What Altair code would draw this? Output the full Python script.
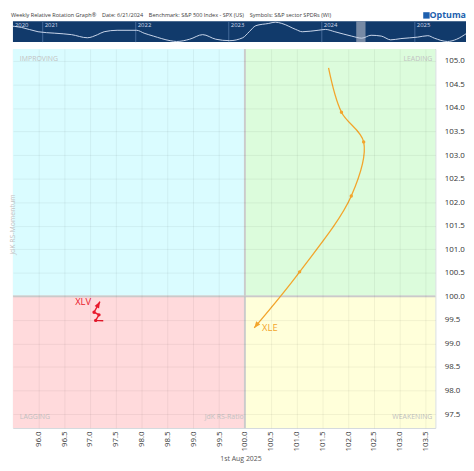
import math
import altair as alt
import pandas as pd

FONT = "Open Sans"
NB = "\u00a0"

# ---------------- header ----------------
header_parts = ["Weekly Relative Rotation Graph\u00ae", "Date: 6/21/2024",
                "Benchmark: S&P 500 Index - SPX (US)", "Symbols: S&P sector SPDRs (WI)"]
header_text = (NB * 4).join(header_parts)
brand_text = "Optuma"

# ---------------- timeline strip ----------------
strip_t = [2020.63, 2020.77, 2020.95, 2021.13, 2021.31, 2021.48, 2021.59, 2021.66,
           2021.80, 2022.01, 2022.09, 2022.19, 2022.37, 2022.44, 2022.58, 2022.72,
           2022.86, 2023.01, 2023.15, 2023.22, 2023.29, 2023.43, 2023.50, 2023.57,
           2023.72, 2023.79, 2023.96, 2024.04, 2024.14, 2024.32, 2024.43, 2024.53,
           2024.64, 2024.74, 2024.85, 2025.03, 2025.14, 2025.21, 2025.35, 2025.45,
           2025.56, 2025.63]
strip_v = [0.79, 0.71, 0.50, 0.43, 0.36, 0.21, 0.36, 0.50,
           0.57, 0.57, 0.43, 0.29, 0.07, 0.03, 0.14, 0.36,
           0.14, 0.07, 0.21, 0.50, 0.79, 0.90, 0.96, 0.90,
           0.61, 0.50, 0.57, 0.61, 0.50, 0.29, 0.19, 0.33,
           0.29, 0.11, 0.17, 0.24, 0.31, 0.19, 0.03, 0.14,
           0.43, 0.64]
year_lines = [2021, 2022, 2023, 2024, 2025]
year_labels = ["2020", "2021", "2022", "2023", "2024", "2025"]
year_label_at = [2020, 2021, 2022, 2023, 2024, 2025]
highlight_from = [2024.37]
highlight_to = [2024.47]
T_MIN, T_MAX = 2020.68, 2025.55

# ---------------- RRG ----------------
XMIN, XMAX = 95.508, 103.688
YMIN, YMAX = 97.206, 105.252
x_ticks = [96.0, 96.5, 97.0, 97.5, 98.0, 98.5, 99.0, 99.5, 100.0, 100.5,
           101.0, 101.5, 102.0, 102.5, 103.0, 103.5]
y_ticks = [97.5, 98.0, 98.5, 99.0, 99.5, 100.0, 100.5, 101.0, 101.5, 102.0,
           102.5, 103.0, 103.5, 104.0, 104.5, 105.0]

quad_names = ["IMPROVING", "LEADING", "LAGGING", "WEAKENING"]
quad_colors = ["#dafcff", "#dcfcdc", "#ffdadc", "#ffffda"]

xle_ratio = [101.62, 101.87, 102.30, 102.06, 101.06, 100.18]
xle_mom = [104.85, 103.91, 103.28, 102.13, 100.52, 99.33]
xlv_ratio = [97.257, 97.111, 97.174, 97.079, 97.193]
xlv_mom = [99.481, 99.489, 99.607, 99.664, 99.889]

XLE_COLOR = "#f3a52c"
XLV_COLOR = "#e8192c"

W_MAIN, H_MAIN = 427, 383
W_STRIP, H_STRIP = 458, 21

# ======== strip chart ========
sx = alt.Scale(domain=[T_MIN, T_MAX], nice=False, zero=False)
sy = alt.Scale(domain=[0, 1], nice=False, zero=False)

strip_df = pd.DataFrame({"t": strip_t, "v": strip_v, "i": range(len(strip_t))})
yl_df = pd.DataFrame({"t": year_lines})
ylab_df = pd.DataFrame({"t": [max(a, T_MIN) for a in year_label_at], "lab": year_labels,
                        "v": [1] * len(year_labels)})
hl_df = pd.DataFrame({"t": highlight_from, "t2": highlight_to, "v": [0], "v2": [1]})

s_rules = alt.Chart(yl_df).mark_rule(color="#44699a", strokeWidth=1).encode(
    x=alt.X("t:Q", scale=sx, axis=None))
s_hl = alt.Chart(hl_df).mark_rect(color="#9aa6b8", opacity=0.75).encode(
    x=alt.X("t:Q", scale=sx, axis=None), x2="t2:Q",
    y=alt.Y("v:Q", scale=sy, axis=None), y2="v2:Q")
s_line = alt.Chart(strip_df).mark_line(color="#c9d6ea", strokeWidth=1, clip=True,
                                       interpolate="monotone").encode(
    x=alt.X("t:Q", scale=sx, axis=None),
    y=alt.Y("v:Q", scale=sy, axis=None), order="i:Q")
s_lab = alt.Chart(ylab_df).mark_text(align="left", baseline="top", dx=2, dy=1,
                                     fontSize=6, font=FONT, color="#d3dced").encode(
    x=alt.X("t:Q", scale=sx, axis=None),
    y=alt.Y("v:Q", scale=sy, axis=None), text="lab:N")
s_head = alt.Chart(pd.DataFrame({"txt": [header_text]})).mark_text(
    align="left", baseline="bottom", fontSize=5.6, font=FONT, color="#3a3a3a").encode(
    x=alt.value(-2), y=alt.value(-3), text="txt:N")
s_brand = alt.Chart(pd.DataFrame({"txt": [brand_text]})).mark_text(
    align="right", baseline="bottom", fontSize=9, fontWeight="bold", font=FONT,
    color="#1d5fae").encode(x=alt.value(W_STRIP), y=alt.value(-1.5), text="txt:N")
s_icon = alt.Chart(pd.DataFrame({"txt": [brand_text]})).mark_point(
    shape="square", filled=True, size=42, color="#1d5fae", opacity=1).encode(
    x=alt.value(W_STRIP - 40), y=alt.value(-6))

strip = alt.layer(s_hl, s_rules, s_line, s_lab, s_head, s_brand, s_icon).properties(
    width=W_STRIP, height=H_STRIP,
    view=alt.ViewBackground(fill="#113a6b", strokeWidth=0))

# ======== main RRG chart ========
xs = alt.Scale(domain=[XMIN, XMAX], nice=False, zero=False)
ys = alt.Scale(domain=[YMIN, YMAX], nice=False, zero=False)
X_AXIS = alt.Axis(values=x_ticks, format=".1f", labelAngle=270, grid=True,
                  gridColor="#000000", gridOpacity=0.06, domain=False, ticks=False,
                  labelFontSize=8, labelColor="#333333", labelFont=FONT, labelPadding=3,
                  titleFontSize=7, titleFontWeight="normal", titleColor="#555555",
                  titleFont=FONT, titlePadding=4, titleX=230, zindex=1,
                  labelOverlap=False)
Y_AXIS = alt.Axis(values=y_ticks, format=".1f", orient="right", grid=True,
                  gridColor="#000000", gridOpacity=0.06, domain=False, ticks=False,
                  labelFontSize=8, labelColor="#333333", labelFont=FONT, labelPadding=9,
                  title=None, zindex=1, labelOverlap=False)


def X(field="x"):
    return alt.X(f"{field}:Q", scale=xs, axis=X_AXIS, title="1st Aug 2025")


def Y(field="y"):
    return alt.Y(f"{field}:Q", scale=ys, axis=Y_AXIS)


quad_df = pd.DataFrame({
    "name": quad_names, "col": quad_colors,
    "x": [XMIN, 100, XMIN, 100], "x2": [100, XMAX, 100, XMAX],
    "y": [100, 100, YMIN, YMIN], "y2": [YMAX, YMAX, 100, 100]})

quads = alt.Chart(quad_df).mark_rect().encode(
    x=X(), x2="x2:Q", y=Y(), y2="y2:Q", color=alt.Color("col:N", scale=None))

vrule = alt.Chart(pd.DataFrame({"x": [100.0]})).mark_rule(color="#d2d2d2", strokeWidth=2).encode(x=X())
hrule = alt.Chart(pd.DataFrame({"y": [100.0]})).mark_rule(color="#d2d2d2", strokeWidth=2).encode(y=Y())

WM = dict(fontSize=7, font=FONT, color="#c2c2c2")


def corner(name, x, y, align, baseline, dx, dy, angle=0):
    df = pd.DataFrame({"x": [x], "y": [y], "t": [name]})
    return alt.Chart(df).mark_text(align=align, baseline=baseline, dx=dx, dy=dy,
                                   angle=angle, **WM).encode(x=X(), y=Y(), text="t:N")


corners = [
    corner("IMPROVING", XMIN, YMAX, "left", "top", 7, 6),
    corner("LEADING", XMAX, YMAX, "right", "top", -3, 6),
    corner("LAGGING", XMIN, YMIN, "left", "bottom", 7, -8),
    corner("WEAKENING", XMAX, YMIN, "right", "bottom", -3, -8),
    corner("JdK RS-Ratio", (XMIN + XMAX) / 2, YMIN, "center", "bottom", 0, -8),
    corner("JdK RS-Momentum", XMIN, (YMIN + YMAX) / 2, "center", "middle", 14, 0, 270),
]

PX_X = W_MAIN / (XMAX - XMIN)
PX_Y = H_MAIN / (YMAX - YMIN)


def head_angle(xs_, ys_):
    dx = (xs_[-1] - xs_[-2]) * PX_X
    dy = -(ys_[-1] - ys_[-2]) * PX_Y
    return math.degrees(math.atan2(dx, -dy)) % 360


ARROW = "M0,0L0.8,2L-0.8,2Z"


def trail(ratio, mom, color, label, interp, label_align, label_dx, width):
    df = pd.DataFrame({"x": ratio, "y": mom, "i": range(len(ratio))})
    line = alt.Chart(df).mark_line(color=color, strokeWidth=width, interpolate=interp).encode(
        x=X(), y=Y(), order="i:Q")
    pts = alt.Chart(df.iloc[1:-1]).mark_point(filled=True, size=12, color=color, opacity=1).encode(
        x=X(), y=Y())
    head = df.iloc[[-1]].copy()
    head["ang"] = head_angle(ratio, mom)
    head["lab"] = label
    arrow = alt.Chart(head).mark_point(shape=ARROW, filled=True, size=42, color=color,
                                        opacity=1).encode(
        x=X(), y=Y(), angle=alt.Angle("ang:Q", scale=None))
    text = alt.Chart(head).mark_text(align=label_align, baseline="middle", dx=label_dx,
                                     fontSize=9.5, font=FONT, color=color).encode(
        x=X(), y=Y(), text="lab:N")
    return [line, pts, arrow, text]


xle_layers = trail(xle_ratio, xle_mom, XLE_COLOR, "XLE", "catmull-rom", "left", 8, 1.3)
xlv_layers = trail(xlv_ratio, xlv_mom, XLV_COLOR, "XLV", "linear", "right", -9, 1.4)

main = alt.layer(quads, vrule, hrule, *corners, *xle_layers, *xlv_layers).properties(
    width=W_MAIN, height=H_MAIN)

chart = alt.vconcat(strip, main, spacing=4).properties(
    padding=0, background="white"
).configure_view(stroke="#cfd6da", strokeWidth=1)

chart.save("out.html", embed_options={"renderer": "svg", "actions": False})
